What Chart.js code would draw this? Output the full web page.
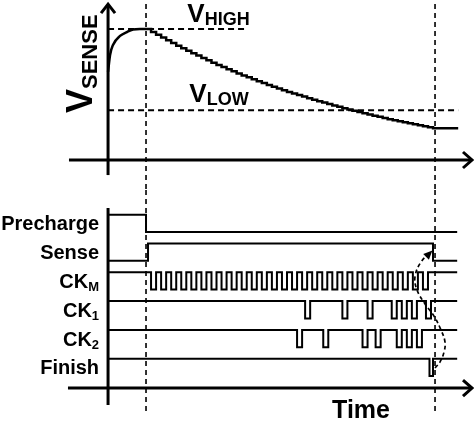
<!DOCTYPE html>
<html>
<head>
<meta charset="utf-8">
<script src="https://cdn.jsdelivr.net/npm/chart.js@4.4.1/dist/chart.umd.min.js"></script>
<style>
  body { margin: 0; background: #fff; }
  #wrap { width: 474px; height: 424px; }
  canvas { display: block; }
</style>
</head>
<body>
<div id="wrap">
  <canvas id="top" width="474" height="190"></canvas>
  <canvas id="bottom" width="474" height="234"></canvas>
</div>
<script>
// time is in CK_M periods, 0 = start of the sensing phase
const tAxis = -3.77;        // where both vertical axes stand
const tSenseStart = 0;
const tSenseEnd = 28.7;
const tSignalEnd = 30.9;

// V_SENSE panel
const vHigh = 1.0;
const vLow = 0.38;
const chargeT = [-3.77, -3.57, -3.28, -2.58, -1.89, -1.29, -0.6, 0];
const chargeV = [0.672, 0.802, 0.878, 0.947, 0.977, 0.996, 1.0, 1.0];
const decayStep = 0.5;      // one step per CK_M half period
const decayV = [
  1.000, 0.978, 0.956, 0.935, 0.914, 0.893, 0.873, 0.853, 0.834, 0.815,
  0.797, 0.778, 0.761, 0.743, 0.726, 0.709, 0.693, 0.677, 0.661, 0.646,
  0.631, 0.616, 0.601, 0.587, 0.573, 0.560, 0.546, 0.533, 0.520, 0.508,
  0.496, 0.484, 0.472, 0.460, 0.449, 0.438, 0.427, 0.416, 0.406, 0.396,
  0.386, 0.376, 0.366, 0.357, 0.347, 0.338, 0.330, 0.321, 0.312, 0.304,
  0.296, 0.288, 0.280, 0.272, 0.265, 0.257, 0.250, 0.243
];
const tHoldEnd = 31.0;
const tHighLabelEnd = 10.03;

// digital signals
const signalNames = [["Precharge", ""], ["Sense", ""], ["CK", "M"], ["CK", "1"], ["CK", "2"], ["Finish", ""]];
const pulseWidth = 0.5;
const ckmLows = [0.5, 1.5, 2.5, 3.5, 4.5, 5.5, 6.5, 7.5, 8.5, 9.5, 10.5, 11.5, 12.5, 13.5,
                 14.5, 15.5, 16.5, 17.5, 18.5, 19.5, 20.5, 21.5, 22.5, 23.5, 24.5, 25.5, 26.5, 27.5];
const ck1Lows = [15.8, 19.5, 22.0, 24.4, 25.4, 26.4, 27.8];
const ck2Lows = [15.0, 17.6, 21.5, 22.8, 24.9, 25.9, 26.9];
const prechargeToggles = [0];
const senseToggles = [0.2, 28.5];
const finishToggles = [28.15, 28.5];
const startLevels = [1, 0, 1, 1, 1, 1];

// dashed feedback arrow (Finish -> Sense)
const loopT = [28.70, 29.20, 29.59, 29.69, 29.29, 28.60, 27.71, 26.91, 26.71, 27.31, 28.30];
const loopV = [0.28, 0.49, 0.83, 1.18, 1.60, 2.08, 2.50, 2.99, 3.44, 3.96, 4.31];

const FONT = '"Liberation Sans", Arial, Helvetica, sans-serif';
const amp = 0.6;
const xRange = { min: -14.5, max: 32.57 };

function toggleList(lows) {
  return lows.flatMap(s => [s, s + pulseWidth]);
}

function wave(row, initial, toggles) {
  const base = signalNames.length - 1 - row;
  let lvl = initial;
  const pts = [{ x: tAxis, y: base + lvl * amp }];
  toggles.forEach(t => {
    pts.push({ x: t, y: base + lvl * amp });
    lvl = 1 - lvl;
    pts.push({ x: t, y: base + lvl * amp });
  });
  pts.push({ x: tSignalEnd, y: base + lvl * amp });
  return pts;
}

function seg(ctx, x1, y1, x2, y2) {
  ctx.beginPath(); ctx.moveTo(x1, y1); ctx.lineTo(x2, y2); ctx.stroke();
}

function chevron(ctx, tx, ty, dx, dy, len, half) {
  // open arrowhead with tip at (tx,ty) pointing along (dx,dy)
  const px = -dy, py = dx;
  ctx.beginPath();
  ctx.moveTo(tx - dx * len + px * half, ty - dy * len + py * half);
  ctx.lineTo(tx, ty);
  ctx.lineTo(tx - dx * len - px * half, ty - dy * len - py * half);
  ctx.stroke();
}

function subText(ctx, main, sub, x, y, size, subSize, drop, align) {
  ctx.font = `bold ${size}px ${FONT}`;
  const w1 = ctx.measureText(main).width;
  ctx.font = `bold ${subSize}px ${FONT}`;
  const w2 = sub ? ctx.measureText(sub).width : 0;
  let left = x;
  if (align === "right") left = x - w1 - w2;
  if (align === "center") left = x - (w1 + w2) / 2;
  ctx.textAlign = "left";
  ctx.textBaseline = "alphabetic";
  ctx.font = `bold ${size}px ${FONT}`;
  ctx.fillText(main, left, y);
  if (sub) {
    ctx.font = `bold ${subSize}px ${FONT}`;
    ctx.fillText(sub, left + w1, y + drop);
  }
}

const topDecor = {
  id: "topDecor",
  beforeDatasetsDraw(chart) {
    const { ctx, scales: { x, y } } = chart;
    ctx.save();
    ctx.strokeStyle = "#000";
    ctx.lineWidth = 1.6;
    ctx.setLineDash([5, 4]);
    [tSenseStart, tSenseEnd].forEach(t => {
      const px = x.getPixelForValue(t);
      seg(ctx, px, y.getPixelForValue(1.19), px, chart.height);
    });
    ctx.restore();
  },
  afterDatasetsDraw(chart) {
    const { ctx, scales: { x, y } } = chart;
    const x0 = x.getPixelForValue(tAxis), y0 = y.getPixelForValue(0);
    ctx.save();
    ctx.strokeStyle = "#000";
    ctx.fillStyle = "#000";
    ctx.lineWidth = 3;
    ctx.lineCap = "butt";
    seg(ctx, x.getPixelForValue(-7.65), y0, x.getPixelForValue(32.3), y0);
    seg(ctx, x0, y.getPixelForValue(-0.115), x0, y.getPixelForValue(1.185));
    ctx.lineJoin = "miter";
    chevron(ctx, x.getPixelForValue(32.37), y0, 1, 0, 9, 8);
    chevron(ctx, x0, y.getPixelForValue(1.19), 0, -1, 9, 7);

    subText(ctx, "V", "HIGH", x.getPixelForValue(4.1), y.getPixelForValue(vHigh) - 7, 26, 18, 3, "left");
    subText(ctx, "V", "LOW", x.getPixelForValue(4.3), y.getPixelForValue(vLow) - 8, 26, 18, 3, "left");

    // rotated axis title
    ctx.translate(92, 113);
    ctx.rotate(-Math.PI / 2);
    subText(ctx, "V", "SENSE", 0, 0, 36, 22, 5, "left");
    ctx.restore();
  }
};

const bottomDecor = {
  id: "bottomDecor",
  beforeDatasetsDraw(chart) {
    const { ctx, scales: { x, y } } = chart;
    ctx.save();
    ctx.strokeStyle = "#000";
    ctx.lineWidth = 1.6;
    ctx.setLineDash([5, 4]);
    [tSenseStart, tSenseEnd].forEach(t => {
      const px = x.getPixelForValue(t);
      seg(ctx, px, 0, px, y.getPixelForValue(-1.285));
    });
    ctx.restore();
  },
  afterDatasetsDraw(chart) {
    const { ctx, scales: { x, y } } = chart;
    const x0 = x.getPixelForValue(tAxis), y0 = y.getPixelForValue(-0.417);
    ctx.save();
    ctx.strokeStyle = "#000";
    ctx.fillStyle = "#000";
    ctx.lineWidth = 3;
    seg(ctx, x.getPixelForValue(-7.75), y0, x.getPixelForValue(32.3), y0);
    seg(ctx, x0, y.getPixelForValue(5.833), x0, y.getPixelForValue(-1.007));
    chevron(ctx, x.getPixelForValue(32.37), y0, 1, 0, 9, 8);

    // arrowhead of the dashed loop
    const n = loopT.length;
    const tipX = x.getPixelForValue(loopT[n - 1]), tipY = y.getPixelForValue(loopV[n - 1]);
    const bx = x.getPixelForValue(loopT[n - 2]), by = y.getPixelForValue(loopV[n - 2]);
    const len = Math.hypot(tipX - bx, tipY - by);
    const dx = (tipX - bx) / len, dy = (tipY - by) / len;
    ctx.beginPath();
    ctx.moveTo(tipX + dx * 2, tipY + dy * 2);
    ctx.lineTo(tipX - dx * 7 - dy * 4, tipY - dy * 7 + dx * 4);
    ctx.lineTo(tipX - dx * 7 + dy * 4, tipY - dy * 7 - dx * 4);
    ctx.closePath();
    ctx.fill();

    // row labels
    const labelX = x0 - 9;
    signalNames.forEach(([main, sub], i) => {
      const base = signalNames.length - 1 - i;
      const mid = y.getPixelForValue(base + amp / 2);
      subText(ctx, main, sub, labelX, mid + 7, 20, 13, 3, "right");
    });

    subText(ctx, "Time", "", x.getPixelForValue(21.35), chart.height - 6, 25, 12, 0, "center");
    ctx.restore();
  }
};

const baseOptions = (yMin, yMax) => ({
  responsive: false,
  animation: false,
  events: [],
  layout: { padding: 0 },
  plugins: { legend: { display: false }, tooltip: { enabled: false } },
  scales: {
    x: { type: "linear", min: xRange.min, max: xRange.max, display: false },
    y: { type: "linear", min: yMin, max: yMax, display: false }
  },
  elements: { point: { radius: 0 } }
});

const lineDs = (data, extra) => Object.assign({
  data: data,
  borderColor: "#000",
  borderWidth: 2,
  fill: false,
  pointRadius: 0,
  tension: 0
}, extra || {});

// top chart: V_SENSE
const chargePts = chargeT.map((t, i) => ({ x: t, y: chargeV[i] }));
const decayPts = decayV.map((v, i) => ({ x: i * decayStep, y: v }));
decayPts.push({ x: tHoldEnd, y: decayV[decayV.length - 1] });

new Chart(document.getElementById("top").getContext("2d"), {
  type: "line",
  data: {
    datasets: [
      lineDs([{ x: tAxis, y: vHigh }, { x: tHighLabelEnd, y: vHigh }], { borderWidth: 2, borderDash: [6, 4] }),
      lineDs([{ x: tAxis, y: vLow }, { x: tHoldEnd, y: vLow }], { borderWidth: 2, borderDash: [6, 4] }),
      lineDs(chargePts, { borderWidth: 2.5, cubicInterpolationMode: "monotone" }),
      lineDs(decayPts, { borderWidth: 2.5, stepped: true })
    ]
  },
  options: baseOptions(-0.229, 1.2214),
  plugins: [topDecor]
});

// bottom chart: control signals
const waves = [
  wave(0, startLevels[0], prechargeToggles),
  wave(1, startLevels[1], senseToggles),
  wave(2, startLevels[2], toggleList(ckmLows)),
  wave(3, startLevels[3], toggleList(ck1Lows)),
  wave(4, startLevels[4], toggleList(ck2Lows)),
  wave(5, startLevels[5], finishToggles)
];
const loopPts = loopT.map((t, i) => ({ x: t, y: loopV[i] }));

new Chart(document.getElementById("bottom").getContext("2d"), {
  type: "line",
  data: {
    datasets: waves.map(w => lineDs(w, { borderWidth: 2 })).concat([
      lineDs(loopPts, { borderWidth: 1.7, borderDash: [4, 3], tension: 0.4 })
    ])
  },
  options: baseOptions(-1.6667, 6.4583),
  plugins: [bottomDecor]
});
</script>
</body>
</html>
